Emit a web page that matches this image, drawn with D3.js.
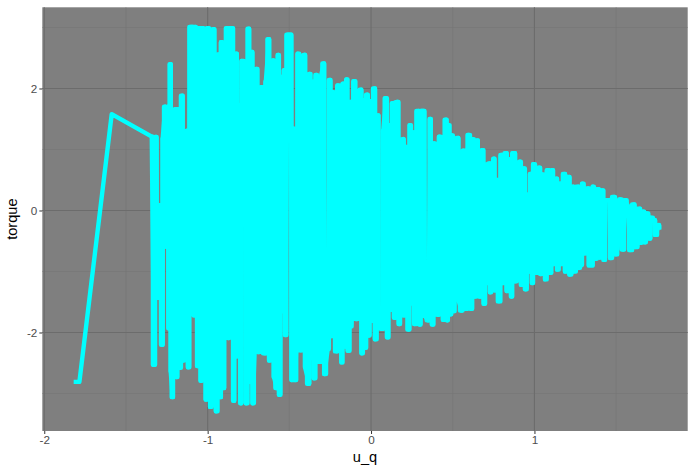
<!DOCTYPE html>
<html><head><meta charset="utf-8">
<script src="https://cdn.jsdelivr.net/npm/d3@7"></script>
<style>html,body{margin:0;padding:0;background:#fff}svg{display:block}text{font-family:"Liberation Sans",Arial,sans-serif}</style>
</head><body><svg id="c" width="695" height="472"></svg>
<script>
const xTicks=[-2,-1,0,1];
const yTicks=[-2,0,2];
const xMinor=[-1.5,-0.5,0.5,1.5];
const yMinor=[-3,-1,1,3];
const leadU=[-1.82,-1.785,-1.587,-1.342];
const leadT=[-2.81,-2.81,1.58,1.21];
const upperU=[-1.316,-1.295,-1.275,-1.259,-1.240,-1.226,-1.210,-1.193,-1.177,-1.154,-1.138,-1.122,-1.104,-1.090,-1.077,-1.067,-1.051,-1.037,-1.012,-.998,-.985,-.965,-.951,-.930,-.918,-.898,-.879,-.865,-.851,-.837,-.822,-.806,-.791,-.767,-.747,-.728,-.700,-.673,-.644,-.624,-.598,-.567,-.547,-.526,-.510,-.490,-.475,-.449,-.424,-.404,-.378,-.353,-.332,-.308,-.288,-.251,-.231,-.204,-.185,-.170,-.149,-.124,-.104,-.078,-.061,-.043,-.023,0,.024,.045,.075,.092,.112,.133,.148,.163,.182,.198,.214,.239,.263,.290,.307,.324,.365,.386,.418,.436,.459,.473,.494,.514,.534,.565,.595,.622,.636,.653,.684,.704,.728,.753,.769,.800,.830,.851,.867,.881,.912,.936,.959,.977,.993,1.030,1.045,1.065,1.085,1.112,1.137,1.157,1.187,1.214,1.238,1.269,1.293,1.330,1.357,1.391,1.416,1.436,1.463,1.487,1.524,1.554,1.575,1.610,1.646,1.667,1.687,1.712,1.738,1.763];
const upperT=[1.205,.085,1.18,1.70,1.70,2.40,1.205,1.66,1.66,1.88,.52,1.31,3.01,3.01,3.01,2.45,2.99,2.99,2.90,2.99,2.97,2.97,1.41,2.56,2.76,2.48,2.99,2.99,2.99,2.49,2.57,1.72,2.45,2.06,2.98,2.60,2.32,2.02,2.11,2.81,2.46,2.55,2.19,2.30,2.88,2.88,1.34,2.57,2.49,2.55,2.24,2.11,2.22,2.19,2.41,2.14,1.94,2.05,1.18,2.08,2.15,1.78,2.12,1.96,1.98,1.81,1.90,1.79,2.00,1.56,1.31,1.84,1.40,1.76,1.77,1.78,1.04,1.17,1.04,1.40,1.28,1.63,1.63,1.63,1.50,1.10,1.21,1.04,1.49,1.40,1.23,.71,1.19,.98,1.24,1.17,.96,1.15,.99,.75,.77,.85,.50,.91,.94,.84,.94,.94,.80,.69,.26,.60,.76,.70,.59,.39,.66,.66,.52,.44,.60,.55,.39,.39,.44,.36,.39,.35,.33,.17,.17,.22,.18,.17,.06,.10,.03,-.02,-.05,-.12,-.16,-.24];
const lowerU=[-1.328,-1.308,-1.276,-1.255,-1.240,-1.226,-1.214,-1.193,-1.173,-1.152,-1.134,-1.120,-1.081,-1.063,-1.038,-1.012,-.985,-.969,-.949,-.920,-.900,-.873,-.838,-.822,-.812,-.796,-.765,-.745,-.724,-.710,-.690,-.675,-.649,-.624,-.608,-.594,-.577,-.561,-.543,-.526,-.485,-.465,-.451,-.430,-.404,-.379,-.363,-.349,-.332,-.312,-.286,-.265,-.245,-.231,-.210,-.179,-.155,-.139,-.124,-.114,-.088,-.057,-.037,-.017,0,.024,.045,.072,.102,.122,.147,.173,.202,.231,.249,.265,.300,.330,.351,.365,.378,.396,.412,.442,.467,.488,.508,.534,.555,.586,.616,.636,.653,.667,.692,.708,.728,.742,.759,.783,.804,.830,.861,.881,.901,.922,.947,.967,.990,1.014,1.040,1.065,1.095,1.116,1.140,1.161,1.187,1.214,1.238,1.269,1.289,1.310,1.334,1.355,1.371,1.398,1.428,1.463,1.499,1.514,1.544,1.585,1.616,1.646,1.677,1.707,1.738,1.763];
const lowerT=[-2.53,-1.43,-2.20,-.59,-1.93,-2.64,-3.06,-2.73,-2.58,-2.46,-2.32,-2.57,-1.72,-2.55,-2.79,-3.10,-3.22,-2.91,-3.29,-3.06,-2.91,-2.09,-3.12,-2.39,-2.14,-3.16,-3.16,-2.81,-3.16,-2.12,-2.32,-2.12,-2.34,-2.46,-2.34,-2.73,-2.91,-3.02,-1.65,-2.04,-2.78,-2.78,-1.71,-2.29,-2.57,-2.84,-2.42,-2.75,-2.17,-2.48,-2.68,-2.27,-2.06,-1.63,-2.31,-2.49,-2.23,-2.30,-1.90,-1.65,-1.78,-2.34,-2.25,-2.05,-1.81,-2.11,-1.60,-1.94,-2.08,-1.63,-1.76,-1.86,-1.72,-1.95,-1.52,-1.86,-1.87,-1.73,-1.80,-1.48,-1.87,-1.58,-1.71,-1.79,-1.80,-1.70,-1.65,-1.46,-1.64,-1.61,-1.61,-1.41,-1.05,-1.41,-1.53,-1.19,-1.34,-.94,-1.31,-1.49,-1.19,-1.32,-1.41,-1.16,-1.05,-1.22,-1.29,-1.00,-1.19,-1.02,-1.04,-1.13,-1.02,-.88,-.97,-.88,-1.00,-1.05,-1.00,-.94,-.89,-.70,-.90,-.90,-.79,-.77,-.81,-.78,-.72,-.53,-.64,-.65,-.60,-.53,-.52,-.46,-.40,-.31];

const L=42.3,R=687.7,T=7.3,B=431;
const x=d3.scaleLinear().domain([-2.012,1.938]).range([L,R]);
const y=d3.scaleLinear().domain([-3.615,3.331]).range([B,T]);
const svg=d3.select("#c");
svg.append("rect").attr("x",L).attr("y",T).attr("width",R-L).attr("height",B-T).attr("fill","#7f7f7f");
const g=svg.append("g");
g.selectAll(".xm").data(xMinor).join("line").attr("x1",d=>x(d)).attr("x2",d=>x(d)).attr("y1",T).attr("y2",B).attr("stroke","#757575").attr("stroke-width",.6);
g.selectAll(".ym").data(yMinor).join("line").attr("y1",d=>y(d)).attr("y2",d=>y(d)).attr("x1",L).attr("x2",R).attr("stroke","#757575").attr("stroke-width",.6);
g.selectAll(".xj").data(xTicks).join("line").attr("x1",d=>x(d)).attr("x2",d=>x(d)).attr("y1",T).attr("y2",B).attr("stroke","#6c6c6c").attr("stroke-width",1.1);
g.selectAll(".yj").data(yTicks).join("line").attr("y1",d=>y(d)).attr("y2",d=>y(d)).attr("x1",L).attr("x2",R).attr("stroke","#6c6c6c").attr("stroke-width",1.1);

const merged=d3.sort(
  upperU.map((u,i)=>({u,t:upperT[i]})).concat(lowerU.map((u,i)=>({u,t:lowerT[i]}))),
  d=>d.u);
const leadPts=leadU.map((u,i)=>({u,t:leadT[i]}));
const style=p=>p.attr("fill","none").attr("stroke","#00ffff").attr("stroke-width",4.4).attr("stroke-linejoin","round").attr("stroke-linecap","butt");
const line=d3.line().x(d=>x(d.u)).y(d=>y(d.t));
svg.append("path").attr("d",line(leadPts.concat(merged))).call(style);
const body=d3.line().x(d=>x(d.u)).y(d=>y(d.t)).curve(d3.curveStep);
svg.append("path").attr("d",body([leadPts[3]].concat(merged))).call(style);

const ax=svg.append("g").attr("transform",`translate(0,${B})`).call(d3.axisBottom(x).tickValues(xTicks).tickSize(3).tickPadding(2).tickFormat(d3.format("d")));
const ay=svg.append("g").attr("transform",`translate(${L},0)`).call(d3.axisLeft(y).tickValues(yTicks).tickSize(3).tickPadding(2).tickFormat(d3.format("d")));
[ax,ay].forEach(a=>{a.select(".domain").remove();a.selectAll("line").attr("stroke","#333");a.selectAll("text").attr("fill","#4d4d4d").style("font-size","11.7px").style("font-family",'"Liberation Sans",Arial,sans-serif');});
ax.selectAll("text").text(d=>d<0?"-"+Math.abs(d):d);
ay.selectAll("text").text(d=>d<0?"-"+Math.abs(d):d);
svg.append("text").attr("x",(L+R)/2).attr("y",462).attr("text-anchor","middle").attr("fill","#000").style("font-size","14.6px").text("u_q");
svg.append("text").attr("transform",`translate(17,${(T+B)/2}) rotate(-90)`).attr("text-anchor","middle").attr("fill","#000").style("font-size","14.6px").text("torque");
</script></body></html>
